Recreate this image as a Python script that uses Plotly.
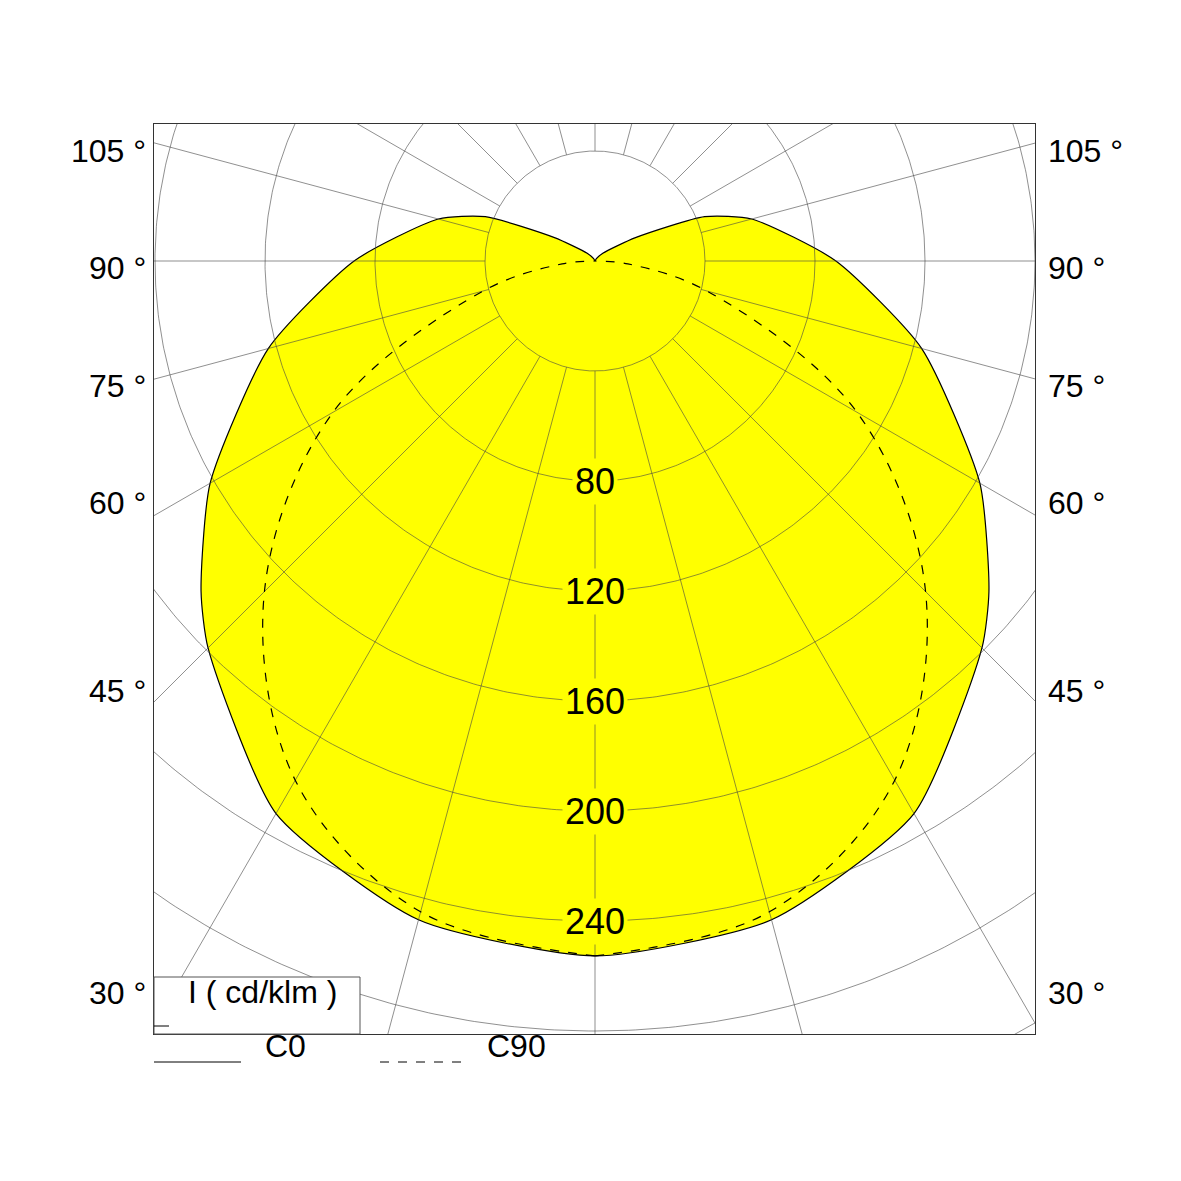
import numpy as np
import plotly.graph_objects as go

# Data (cd/klm) vs gamma angle in degrees
gamma_c0 = [0, 15, 30, 45, 50, 60, 75, 90, 105, 112, 120, 135, 150, 165, 180]
int_c0 = [252.7, 248, 232, 199, 187, 161.6, 123, 87.6, 59, 43, 17, 4, 1, 0, 0]
gamma_c90 = [0, 15, 30, 45, 60, 75, 85, 90]
int_c90 = [252.7, 245, 218, 170, 110, 42, 12, 0]

circle_values = [40, 80, 120, 160, 200, 240, 280, 320, 360, 400]
circle_labels = ["80", "120", "160", "200", "240"]
radial_angles = list(range(0, 360, 15))
side_labels = ["30°", "45°", "60°", "75°", "90°", "105°"]
side_label_y = [1005, 683, 495, 358, 240, 123]

L, R, T, B = 146, 1027, 116, 1026
S = 2.75
cx, cy = 587, 253
xr = [(L - cx) / S, (R - cx) / S]
yr = [(cy - B) / S, (cy - T) / S]

def xy(g, r, sign=1):
    g = np.radians(np.array(g, float))
    r = np.array(r, float)
    return sign * r * np.sin(g), -r * np.cos(g)

fig = go.Figure()

# yellow fill for C0 / C180 (symmetric)
xa, ya = xy(gamma_c0, int_c0, -1)
xb, yb = xy(gamma_c0[::-1], int_c0[::-1], 1)
fx = np.concatenate([xa, xb]); fy = np.concatenate([ya, yb])
fig.add_trace(go.Scatter(x=fx, y=fy, mode="lines", fill="toself", fillcolor="#ffff00",
                         line=dict(color="black", width=1.2, shape="spline", smoothing=0.6),
                         hoverinfo="skip", showlegend=False))

# grid circles
t = np.linspace(0, 2 * np.pi, 721)
for v in circle_values:
    fig.add_trace(go.Scatter(x=v * np.cos(t), y=v * np.sin(t), mode="lines",
                             line=dict(color="#444", width=0.6), hoverinfo="skip", showlegend=False))
# radial lines
for a in radial_angles:
    x0, y0 = xy([a], [40]); x1, y1 = xy([a], [600])
    fig.add_trace(go.Scatter(x=[x0[0], x1[0]], y=[y0[0], y1[0]], mode="lines",
                             line=dict(color="#444", width=0.6), hoverinfo="skip", showlegend=False))

# C90 dashed
for sgn in (-1, 1):
    x9, y9 = xy(gamma_c90, int_c90, sgn)
    fig.add_trace(go.Scatter(x=x9, y=y9, mode="lines",
                             line=dict(color="black", width=1.2, dash="dash", shape="spline"),
                             hoverinfo="skip", showlegend=False))

ann = []
for lab in circle_labels:
    ann.append(dict(x=0, y=-float(lab), text=lab, showarrow=False, xref="x", yref="y",
                    font=dict(size=36, color="black"), bgcolor="#ffff00", borderpad=2))
for lab, py in zip(side_labels, side_label_y):
    yp = (B - py) / (B - T)
    ann.append(dict(x=(140 - L) / (R - L), y=yp, xref="paper", yref="paper", text=lab.replace("°", " °"),
                    xanchor="right", showarrow=False, font=dict(size=32, color="black")))
    ann.append(dict(x=(1038 - L) / (R - L), y=yp, xref="paper", yref="paper", text=lab.replace("°", " °"),
                    xanchor="left", showarrow=False, font=dict(size=32, color="black")))

def px(v): return (v - L) / (R - L)
def py(v): return (B - v) / (B - T)

ann.append(dict(x=px(178), y=py(1004), xref="paper", yref="paper", text="I ( cd/klm )",
                xanchor="left", showarrow=False, font=dict(size=32, color="black")))
ann.append(dict(x=px(255), y=py(1058), xref="paper", yref="paper", text="C0",
                xanchor="left", showarrow=False, font=dict(size=32, color="black")))
ann.append(dict(x=px(477), y=py(1058), xref="paper", yref="paper", text="C90",
                xanchor="left", showarrow=False, font=dict(size=32, color="black")))

shapes = [
    dict(type="rect", xref="paper", yref="paper", x0=px(146), x1=px(352), y0=py(1026), y1=py(969),
         line=dict(color="#555", width=1), fillcolor="white", layer="above"),
    dict(type="line", xref="paper", yref="paper", x0=px(146), x1=px(161), y0=py(1018), y1=py(1018),
         line=dict(color="black", width=1)),
    dict(type="line", xref="paper", yref="paper", x0=px(146), x1=px(233), y0=py(1054), y1=py(1054),
         line=dict(color="black", width=1)),
    dict(type="line", xref="paper", yref="paper", x0=px(372), x1=px(455), y0=py(1054), y1=py(1054),
         line=dict(color="black", width=1, dash="dash")),
]

fig.update_layout(
    width=1181, height=1181, paper_bgcolor="white", plot_bgcolor="white",
    margin=dict(l=L, r=1181 - R, t=T, b=1181 - B, autoexpand=False),
    font=dict(family="Liberation Sans, Arial, sans-serif"),
    xaxis=dict(range=xr, showgrid=False, zeroline=False, showticklabels=False, ticks="",
               showline=True, linecolor="#333", linewidth=1, mirror=True, fixedrange=True),
    yaxis=dict(range=yr, showgrid=False, zeroline=False, showticklabels=False, ticks="",
               showline=True, linecolor="#333", linewidth=1, mirror=True, fixedrange=True),
    annotations=ann, shapes=shapes, showlegend=False,
)
fig.write_html("out.html")
